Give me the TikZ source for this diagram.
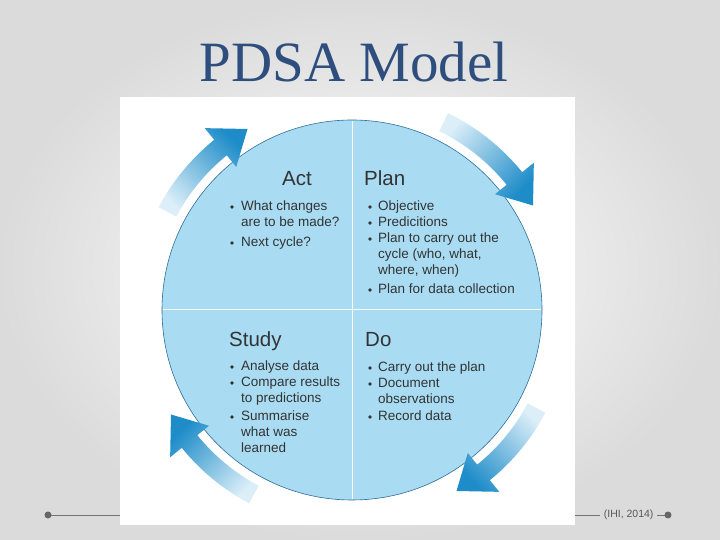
\documentclass[tikz,border=0pt]{standalone}
\usepackage{fontspec}
\setmainfont{Liberation Sans}
\newfontfamily\titlefont{Liberation Serif}
\definecolor{circfill}{HTML}{A9DCF3}
\definecolor{circline}{HTML}{2F6E9C}
\definecolor{arrowblue}{HTML}{1E8CC8}
\definecolor{arrowpale}{HTML}{DCEFF9}
\definecolor{titleblue}{HTML}{2E4E7E}
\definecolor{txt}{HTML}{333333}
\tikzset{
  head/.style={anchor=base west, inner sep=0, font=\fontsize{20.5}{22}\selectfont, text=txt},
  item/.style={anchor=north west, inner sep=0, align=left, font=\fontsize{13.5}{16}\selectfont, text=txt},
  dot/.style={anchor=center, inner sep=0, circle, fill=txt, minimum size=3.6pt},
}
\newcommand{\cyclearrow}[3]{% start angle, end angle
  \shade[top color=arrowblue, bottom color=arrowpale, shading angle={(#2+#3)/2-180}]
    ($(ctr)+(#2:219)$) arc[start angle=#2, end angle=#3+9, radius=219]
    -- ($(ctr)+(#3+9:234)$) -- ($(ctr)+(#3:209)$) -- ($(ctr)+(#3+9:184)$)
    -- ($(ctr)+(#3+9:199)$) arc[start angle=#3+9, end angle=#2, radius=199] -- cycle;
}
\usetikzlibrary{calc}
\begin{document}
\begin{tikzpicture}[x=1pt,y=1pt]
\useasboundingbox (0,0) rectangle (720,540);
\shade[inner color=white, outer color=black!14] (0,0) rectangle (720,540);
\node[font=\titlefont\fontsize{57}{62}\selectfont, text=titleblue] (title) at (354,478) {PDSA Model};
\node[font=\fontsize{10.5}{12}\selectfont, text=black!65, anchor=east] (cite) at (657,25) {(IHI, 2014)};
\coordinate (l0) at (48,25);
\coordinate (l1) at (668,25);
\draw[black!55, line width=0.8pt] (l0) -- (cite.west);
\draw[black!55, line width=0.8pt] (cite.east) -- (l1);
\fill[black!60] (l0) circle (3.5);
\fill[black!60] (l1) circle (3.5);
\fill[white] (120,15) rectangle (575,443);
\coordinate (ctr) at (352,230);
\fill[circfill, draw=circline, line width=0.6pt] (ctr) circle (190);
\draw[white, line width=1pt] (352,41) -- (352,419);
\draw[white, line width=1pt] (163,230) -- (541,230);
\cyclearrow{}{64}{30}
\cyclearrow{}{-28}{-60}
\cyclearrow{}{-118}{-150}
\cyclearrow{}{152}{120}
% Act
\node[head] (act) at (282,354) {Act};
\node[dot] (a1d) at (232,333) {};
\node[item] (a1) at (241,339) {What changes\\are to be made?};
\node[dot] (a2d) at (232,297) {};
\node[item] (a2) at (241,303) {Next cycle?};
% Plan
\node[head] (plan) at (364,354) {Plan};
\node[dot] (p1d) at (370,333) {};
\node[item] (p1) at (378,339) {Objective};
\node[dot] (p2d) at (370,317) {};
\node[item] (p2) at (378,323) {Predicitions};
\node[dot] (p3d) at (370,301) {};
\node[item] (p3) at (378,307) {Plan to carry out the\\cycle (who, what,\\where, when)};
\node[dot] (p4d) at (370,250) {};
\node[item] (p4) at (378,256) {Plan for data collection};
% Study
\node[head] (study) at (229,193) {Study};
\node[dot] (s1d) at (232,173) {};
\node[item] (s1) at (241,179) {Analyse data};
\node[dot] (s2d) at (232,157) {};
\node[item] (s2) at (241,163) {Compare results\\to predictions};
\node[dot] (s3d) at (232,123) {};
\node[item] (s3) at (241,129) {Summarise\\what was\\learned};
% Do
\node[head] (do) at (365,193) {Do};
\node[dot] (d1d) at (370,172) {};
\node[item] (d1) at (378,178) {Carry out the plan};
\node[dot] (d2d) at (370,156) {};
\node[item] (d2) at (378,162) {Document\\observations};
\node[dot] (d3d) at (370,123) {};
\node[item] (d3) at (378,129) {Record data};
\end{tikzpicture}
\end{document}
